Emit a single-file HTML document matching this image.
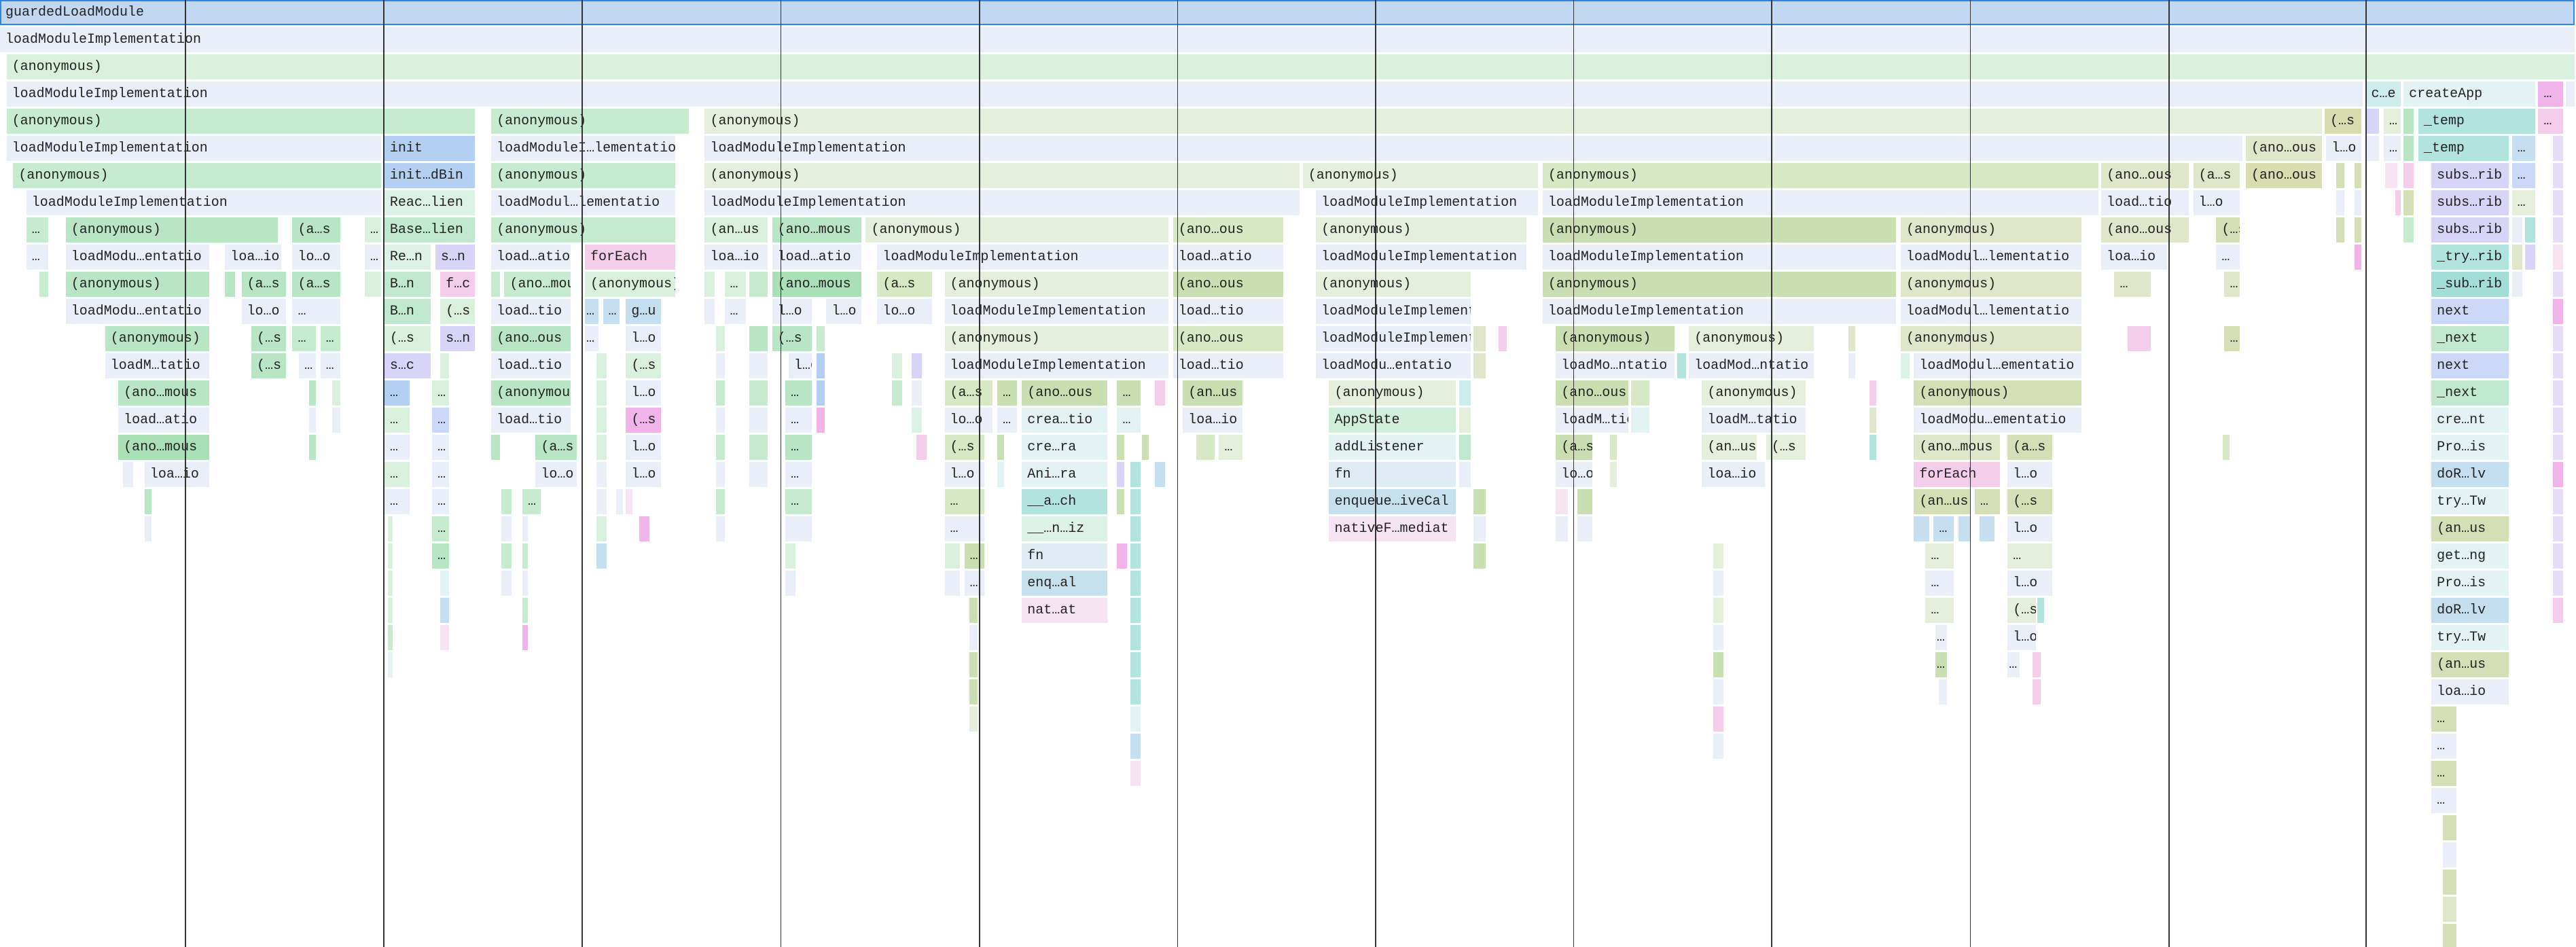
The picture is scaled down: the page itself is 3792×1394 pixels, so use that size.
<!DOCTYPE html>
<html><head><meta charset="utf-8">
<style>
html,body{margin:0;padding:0;background:#fff;}
#chart{position:relative;width:3792px;height:1394px;overflow:hidden;background:#fff;font-family:"Liberation Mono","DejaVu Sans Mono",monospace;font-size:20px;color:#222;}
.bar{position:absolute;height:37px;line-height:37px;overflow:hidden;white-space:nowrap;box-sizing:border-box;padding-left:8px;}
.grid{position:absolute;top:0;width:1.5px;height:1394px;background:#333;}
</style></head>
<body>
<div id="chart"></div>
<script>
const totalSpan = 1568;
const rowHeight = 40;
const gridTimes = [112.5, 233.3, 354, 475, 596, 716.5, 837, 957.5, 1078, 1199, 1320, 1440];
const palette = {
  sel:'#c2d8f2', lm:'#eaeef9', a1:'#d9f0dc', a2:'#c6ebcf', a3:'#b8e6c4', a4:'#a9e0b6',
  o1:'#e5efdc', o2:'#d7e8c4', o3:'#c9dfb1', o4:'#dfe6c9', o5:'#d4dfb6', ol:'#d8dcae',
  bl:'#b3cff2', mint:'#ddf2e6', mint2:'#c0e9d0', pur:'#d8d4f8', pink:'#f3cde9', pink2:'#f0b3ea',
  teal:'#b2e4de', teal2:'#a3ded6', lb:'#cbd8f7', cy:'#cfeced', cy2:'#e3f3f3', sky:'#c5dff0',
  lpink:'#f7e4f2', lpur:'#e6dcf6', fn:'#dfecf3', enq:'#c6e0ee', app:'#d1eedb'
};
const frameRow = [];
const frameStart = [];
const frameEnd = [];
const frameLabel = [];
const frameColor = [];
function F(r,s,e,l,c){frameRow.push(r);frameStart.push(s);frameEnd.push(e);frameLabel.push(l);frameColor.push(c);}
F(0,0,1568,'guardedLoadModule','sel');
F(1,0,1568,'loadModuleImplementation','lm');
F(2,4,1568,'(anonymous)','a1');
F(3,4,1439,'loadModuleImplementation','lm');F(3,1440,1462,'c…e','cy');F(3,1463,1544,'createApp','cy2');F(3,1545,1561,'…','pink2');F(3,1562,1568,'','lm');
F(4,4,290,'(anonymous)','a2');F(4,299,420,'(anonymous)','a2');F(4,429,1414,'(anonymous)','o1');F(4,1415,1438,'(…s','ol');F(4,1440,1449,'','pur');F(4,1451,1462,'…','o1');F(4,1463,1470,'','a3');F(4,1472,1544,'_temp','teal');F(4,1545,1561,'…','pink');
F(5,4,233,'loadModuleImplementation','lm');F(5,234,290,'init','bl');F(5,299,412,'loadModuleI…lementatio','lm');F(5,429,1366,'loadModuleImplementation','lm');F(5,1367,1414,'(ano…ous','o4');F(5,1416,1438,'l…o','lm');F(5,1440,1449,'','lm');F(5,1451,1462,'…','lm');F(5,1463,1470,'','a3');F(5,1472,1528,'_temp','teal');F(5,1529,1544,'…','sky');F(5,1554,1561,'','lpur');
F(6,8,233,'(anonymous)','a2');F(6,234,290,'init…dBin','bl');F(6,299,412,'(anonymous)','a2');F(6,429,792,'(anonymous)','o1');F(6,793,937,'(anonymous)','o1');F(6,939,1278,'(anonymous)','o2');F(6,1279,1333,'(ano…ous','o4');F(6,1335,1364,'(a…s','o4');F(6,1367,1414,'(ano…ous','ol');F(6,1422,1428,'','o5');F(6,1433,1438,'','o5');F(6,1452,1460,'','lpink');F(6,1463,1470,'','pink');F(6,1480,1528,'subs…rib','pur');F(6,1529,1544,'…','lb');F(6,1554,1561,'','lpur');
F(7,16,233,'loadModuleImplementation','lm');F(7,234,290,'Reac…lien','mint');F(7,299,412,'loadModul…lementatio','lm');F(7,429,792,'loadModuleImplementation','lm');F(7,801,937,'loadModuleImplementation','lm');F(7,939,1278,'loadModuleImplementation','lm');F(7,1279,1333,'load…tio','lm');F(7,1335,1364,'l…o','lm');F(7,1422,1428,'','lm');F(7,1433,1438,'','lm');F(7,1458,1462,'','pink');F(7,1463,1470,'','o5');F(7,1480,1528,'subs…rib','pur');F(7,1529,1544,'…','o1');F(7,1554,1561,'','lpur');
F(8,16,30,'…','a2');F(8,40,170,'(anonymous)','a3');F(8,178,208,'(a…s','a3');F(8,222,233,'…','a1');F(8,234,290,'Base…lien','mint2');F(8,299,412,'(anonymous)','a2');F(8,429,468,'(an…us','a1');F(8,470,525,'(ano…mous','a3');F(8,527,712,'(anonymous)','o1');F(8,714,782,'(ano…ous','o2');F(8,801,930,'(anonymous)','o1');F(8,939,1155,'(anonymous)','o3');F(8,1157,1268,'(anonymous)','o4');F(8,1279,1333,'(ano…ous','o4');F(8,1349,1364,'(…s','o5');F(8,1422,1428,'','o5');F(8,1433,1438,'','o5');F(8,1463,1470,'','a2');F(8,1480,1528,'subs…rib','pur');F(8,1529,1536,'','lm');F(8,1537,1544,'','teal');F(8,1554,1561,'','lpur');
F(9,16,30,'…','lm');F(9,40,128,'loadModu…entatio','lm');F(9,137,172,'loa…io','lm');F(9,178,208,'lo…o','lm');F(9,222,233,'…','lm');F(9,234,263,'Re…n','mint');F(9,265,290,'s…n','pur');F(9,299,348,'load…atio','lm');F(9,356,412,'forEach','pink');F(9,429,468,'loa…io','lm');F(9,470,525,'load…atio','lm');F(9,534,712,'loadModuleImplementation','lm');F(9,714,782,'load…atio','lm');F(9,801,930,'loadModuleImplementation','lm');F(9,939,1155,'loadModuleImplementation','lm');F(9,1157,1268,'loadModul…lementatio','lm');F(9,1279,1320,'loa…io','lm');F(9,1349,1364,'…','lm');F(9,1433,1438,'','pink2');F(9,1480,1528,'_try…rib','teal');F(9,1529,1536,'','o4');F(9,1537,1544,'','pur');F(9,1554,1561,'','lpink');
F(10,24,30,'','a2');F(10,40,128,'(anonymous)','a3');F(10,137,144,'','a3');F(10,147,175,'(a…s','a3');F(10,178,208,'(a…s','a3');F(10,222,233,'','a1');F(10,234,263,'B…n','mint2');F(10,268,290,'f…c','pink');F(10,299,305,'','a2');F(10,307,348,'(ano…mous','a2');F(10,356,412,'(anonymous)','a1');F(10,429,436,'','a1');F(10,441,455,'…','a1');F(10,456,468,'','a2');F(10,470,525,'(ano…mous','a4');F(10,534,568,'(a…s','o2');F(10,575,712,'(anonymous)','o1');F(10,714,782,'(ano…ous','o3');F(10,801,896,'(anonymous)','o1');F(10,939,1155,'(anonymous)','o3');F(10,1157,1268,'(anonymous)','o4');F(10,1287,1310,'…','o4');F(10,1354,1364,'…','o4');F(10,1480,1528,'_sub…rib','teal2');F(10,1529,1536,'','lm');F(10,1554,1561,'','lpur');
F(11,40,128,'loadModu…entatio','lm');F(11,147,175,'lo…o','lm');F(11,178,208,'…','lm');F(11,234,263,'B…n','mint2');F(11,268,290,'(…s','a1');F(11,299,348,'load…tio','lm');F(11,356,365,'…','sky');F(11,367,378,'…','sky');F(11,381,403,'g…u','sky');F(11,429,436,'','lm');F(11,441,455,'…','lm');F(11,470,495,'l…o','lm');F(11,503,525,'l…o','lm');F(11,534,568,'lo…o','lm');F(11,575,712,'loadModuleImplementation','lm');F(11,714,782,'load…tio','lm');F(11,801,896,'loadModuleImplementation','lm');F(11,939,1155,'loadModuleImplementation','lm');F(11,1157,1268,'loadModul…lementatio','lm');F(11,1480,1528,'next','lb');F(11,1554,1561,'','pink2');
F(12,64,128,'(anonymous)','a3');F(12,153,175,'(…s','a3');F(12,178,193,'…','a2');F(12,195,208,'…','a2');F(12,234,263,'(…s','a1');F(12,268,290,'s…n','pur');F(12,299,348,'(ano…ous','a3');F(12,356,365,'…','lm');F(12,381,403,'l…o','lm');F(12,436,442,'','a1');F(12,456,468,'','a3');F(12,470,495,'(…s','a3');F(12,497,503,'','a2');F(12,575,712,'(anonymous)','o1');F(12,714,782,'(ano…ous','o2');F(12,801,896,'loadModuleImplementation','lm');F(12,897,905,'','o4');F(12,912,918,'','pink');F(12,947,1020,'(anonymous)','o3');F(12,1028,1105,'(anonymous)','o1');F(12,1125,1130,'','o4');F(12,1157,1268,'(anonymous)','o4');F(12,1295,1310,'','pink');F(12,1354,1364,'…','o5');F(12,1480,1528,'_next','mint2');F(12,1554,1561,'','lpur');
F(13,64,128,'loadM…tatio','lm');F(13,153,175,'(…s','a3');F(13,182,193,'…','lm');F(13,195,208,'…','lm');F(13,234,263,'s…c','pur');F(13,268,274,'','a1');F(13,299,348,'load…tio','lm');F(13,363,370,'','a1');F(13,381,403,'(…s','a1');F(13,436,442,'','lm');F(13,456,468,'','lm');F(13,480,495,'l…o','lm');F(13,497,503,'','bl');F(13,543,550,'','a1');F(13,555,562,'','pur');F(13,575,712,'loadModuleImplementation','lm');F(13,714,782,'load…tio','lm');F(13,801,896,'loadModu…entatio','lm');F(13,897,905,'','o4');F(13,947,1020,'loadMo…ntatio','lm');F(13,1021,1027,'','teal');F(13,1028,1105,'loadMod…ntatio','lm');F(13,1125,1130,'','lm');F(13,1157,1163,'','mint');F(13,1165,1268,'loadModul…ementatio','lm');F(13,1480,1528,'next','lb');F(13,1554,1561,'','lpur');
F(14,72,128,'(ano…mous','a3');F(14,188,193,'','a3');F(14,202,208,'','a1');F(14,234,250,'…','bl');F(14,263,274,'…','a1');F(14,299,348,'(anonymous)','a3');F(14,363,370,'','a1');F(14,381,403,'l…o','lm');F(14,436,442,'','a2');F(14,456,468,'','a2');F(14,478,495,'…','a3');F(14,497,503,'','bl');F(14,543,550,'','a2');F(14,555,562,'','lm');F(14,575,605,'(a…s','o2');F(14,607,620,'…','o3');F(14,622,675,'(ano…ous','o3');F(14,680,695,'…','o3');F(14,703,710,'','pink');F(14,720,757,'(an…us','o3');F(14,809,887,'(anonymous)','o1');F(14,888,896,'','cy');F(14,947,992,'(ano…ous','o3');F(14,993,1005,'','o2');F(14,1036,1100,'(anonymous)','o1');F(14,1138,1143,'','pink');F(14,1165,1268,'(anonymous)','o5');F(14,1480,1528,'_next','mint2');F(14,1554,1561,'','lpur');
F(15,72,128,'load…atio','lm');F(15,188,193,'','lm');F(15,202,208,'','lm');F(15,234,250,'…','a1');F(15,263,274,'…','lb');F(15,299,348,'load…tio','lm');F(15,363,370,'','a1');F(15,381,403,'(…s','pink2');F(15,436,442,'','lm');F(15,456,468,'','lm');F(15,478,495,'…','lm');F(15,497,503,'','pink2');F(15,555,562,'','mint');F(15,575,605,'lo…o','lm');F(15,607,620,'…','lm');F(15,622,675,'crea…tio','cy2');F(15,680,695,'…','cy2');F(15,720,757,'loa…io','lm');F(15,809,887,'AppState','app');F(15,888,896,'','o1');F(15,947,992,'loadM…tio','lm');F(15,993,1005,'','cy2');F(15,1036,1100,'loadM…tatio','lm');F(15,1138,1143,'','o4');F(15,1165,1268,'loadModu…ementatio','lm');F(15,1480,1528,'cre…nt','cy2');F(15,1554,1561,'','lpur');
F(16,72,128,'(ano…mous','a4');F(16,188,193,'','a3');F(16,234,250,'…','lm');F(16,263,274,'…','lm');F(16,299,305,'','a3');F(16,326,352,'(a…s','a3');F(16,363,370,'','a1');F(16,381,403,'l…o','lm');F(16,436,442,'','a2');F(16,456,468,'','a2');F(16,478,495,'…','a3');F(16,558,565,'','pink');F(16,575,600,'(…s','o2');F(16,607,612,'','o3');F(16,622,675,'cre…ra','cy2');F(16,680,685,'','o3');F(16,695,700,'','o3');F(16,728,740,'','o2');F(16,742,757,'…','o1');F(16,809,887,'addListener','cy2');F(16,888,896,'','mint2');F(16,947,970,'(a…s','o3');F(16,980,985,'','o2');F(16,1036,1070,'(an…us','o1');F(16,1075,1100,'(…s','o1');F(16,1138,1143,'','teal');F(16,1165,1218,'(ano…mous','o4');F(16,1222,1250,'(a…s','o5');F(16,1353,1358,'','o2');F(16,1480,1528,'Pro…is','cy2');F(16,1554,1561,'','lpur');
F(17,88,128,'loa…io','lm');F(17,75,82,'','lm');F(17,234,250,'…','a1');F(17,263,274,'…','lm');F(17,326,352,'lo…o','lm');F(17,363,370,'','lm');F(17,381,403,'l…o','lm');F(17,436,442,'','lm');F(17,456,468,'','lm');F(17,478,495,'…','lm');F(17,575,600,'l…o','lm');F(17,607,612,'','cy2');F(17,622,675,'Ani…ra','cy2');F(17,680,685,'','pur');F(17,688,695,'','teal');F(17,703,710,'','sky');F(17,809,887,'fn','fn');F(17,888,896,'','lm');F(17,947,970,'lo…o','lm');F(17,980,985,'','o1');F(17,1036,1075,'loa…io','lm');F(17,1165,1218,'forEach','pink');F(17,1222,1250,'l…o','lm');F(17,1480,1528,'doR…lv','sky');F(17,1554,1561,'','pink2');
F(18,88,93,'','a3');F(18,234,250,'…','lm');F(18,263,274,'…','lm');F(18,305,312,'','a2');F(18,318,330,'…','a2');F(18,363,370,'','lm');F(18,375,380,'','lm');F(18,381,386,'','lpink');F(18,436,442,'','a2');F(18,478,495,'…','a2');F(18,575,600,'…','o2');F(18,622,675,'__a…ch','teal');F(18,680,685,'','o3');F(18,688,695,'','teal');F(18,809,887,'enqueue…iveCal','enq');F(18,897,905,'','o3');F(18,947,955,'','lpink');F(18,960,970,'','o3');F(18,1165,1200,'(an…us','o5');F(18,1202,1218,'…','o5');F(18,1222,1250,'(…s','o5');F(18,1480,1528,'try…Tw','cy2');F(18,1554,1561,'','lpur');
F(19,88,93,'','lm');F(19,236,240,'','a1');F(19,263,274,'…','a2');F(19,305,312,'','lm');F(19,318,322,'','lm');F(19,363,370,'','a1');F(19,389,396,'','pink2');F(19,436,442,'','lm');F(19,478,495,'','lm');F(19,575,600,'…','lm');F(19,622,675,'__…n…iz','mint');F(19,688,695,'','teal');F(19,809,887,'nativeF…mediat','lpink');F(19,897,905,'','lm');F(19,947,955,'','lm');F(19,960,970,'','lm');F(19,1165,1175,'','sky');F(19,1177,1190,'…','sky');F(19,1192,1200,'','sky');F(19,1205,1215,'','sky');F(19,1222,1250,'l…o','lm');F(19,1480,1528,'(an…us','o5');F(19,1554,1561,'','lpur');
F(20,236,240,'','a1');F(20,263,274,'…','a3');F(20,305,312,'','a2');F(20,318,322,'','a2');F(20,363,370,'','sky');F(20,478,485,'','a1');F(20,575,585,'','a1');F(20,587,600,'…','o3');F(20,622,675,'fn','fn');F(20,680,687,'','pink2');F(20,688,695,'','teal');F(20,897,905,'','o3');F(20,1043,1050,'','o1');F(20,1172,1190,'…','o1');F(20,1222,1250,'…','o1');F(20,1480,1528,'get…ng','cy2');F(20,1554,1561,'','lpur');
F(21,236,240,'','a1');F(21,268,274,'','cy2');F(21,305,312,'','lm');F(21,318,322,'','lm');F(21,478,485,'','lm');F(21,575,585,'','lm');F(21,587,600,'…','lm');F(21,622,675,'enq…al','enq');F(21,688,695,'','teal');F(21,1043,1050,'','lm');F(21,1172,1190,'…','lm');F(21,1222,1250,'l…o','lm');F(21,1480,1528,'Pro…is','cy2');F(21,1554,1561,'','lpur');
F(22,236,240,'','a1');F(22,268,274,'','sky');F(22,318,322,'','a2');F(22,590,596,'','o3');F(22,622,675,'nat…at','lpink');F(22,688,695,'','teal');F(22,1043,1050,'','o1');F(22,1172,1190,'…','o1');F(22,1222,1240,'(…s','o1');F(22,1240,1245,'','teal');F(22,1480,1528,'doR…lv','sky');F(22,1554,1561,'','pink');
F(23,236,240,'','a2');F(23,268,274,'','lpink');F(23,318,322,'','pink2');F(23,590,596,'','lm');F(23,688,695,'','teal');F(23,1043,1050,'','lm');F(23,1178,1186,'…','lm');F(23,1222,1240,'l…o','lm');F(23,1480,1528,'try…Tw','cy2');
F(24,236,240,'','cy2');F(24,590,596,'','o3');F(24,688,695,'','teal');F(24,1043,1050,'','o3');F(24,1178,1186,'…','o3');F(24,1222,1230,'…','lm');F(24,1237,1243,'','pink');F(24,1480,1528,'(an…us','o5');
F(25,590,596,'','o3');F(25,688,695,'','teal');F(25,1043,1050,'','lm');F(25,1180,1186,'','lm');F(25,1237,1243,'','pink');F(25,1480,1528,'loa…io','lm');
F(26,590,596,'','o1');F(26,688,695,'','cy2');F(26,1043,1050,'','pink');F(26,1480,1496,'…','o5');
F(27,688,695,'','sky');F(27,1043,1050,'','lm');F(27,1480,1496,'…','lm');
F(28,688,695,'','lpink');F(28,1480,1496,'…','o5');
F(29,1480,1496,'…','lm');
F(30,1487,1496,'','o5');F(31,1487,1496,'','lm');F(32,1487,1496,'','o5');F(33,1487,1496,'','o4');F(34,1487,1496,'','o5');

const chart = document.getElementById('chart');
const W = 3792;
function xScale(t){ return t / totalSpan * W; }
function yScale(row){ return row * rowHeight; }
for (let i = 0; i < frameRow.length; i++) {
  const el = document.createElement('div');
  el.className = 'bar';
  const x0 = xScale(frameStart[i]), x1 = xScale(frameEnd[i]);
  el.style.left = x0 + 'px';
  el.style.top = yScale(frameRow[i]) + 'px';
  el.style.width = Math.max(2, x1 - x0 - 2) + 'px';
  el.style.background = palette[frameColor[i]];
  if (frameColor[i] === 'sel') { el.style.border = '2px solid #2f86e6'; el.style.lineHeight = '33px'; el.style.paddingLeft = '6px'; }
  if (x1 - x0 < 24) el.style.paddingLeft = '2px';
  el.textContent = frameLabel[i];
  
  
  chart.appendChild(el);
}
for (let i = 0; i < gridTimes.length; i++) {
  const g = document.createElement('div');
  g.className = 'grid';
  g.style.left = xScale(gridTimes[i]) + 'px';
  
  
  chart.appendChild(g);
}
</script>
</body></html>
